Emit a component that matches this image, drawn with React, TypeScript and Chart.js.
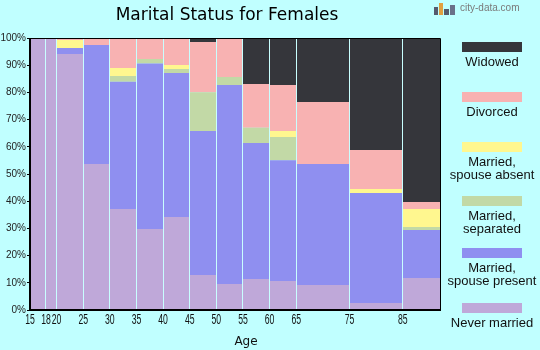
import React, { useEffect, useRef } from 'react';
import { Chart, registerables } from 'chart.js';

Chart.register(...registerables);

// Age group boundaries (last group 85+ drawn to 92)
const ageBounds = [15, 18, 20, 25, 30, 35, 40, 45, 50, 55, 60, 65, 75, 85, 92];
const tickAges = [15, 18, 20, 25, 30, 35, 40, 45, 50, 55, 60, 65, 75, 85];

// Percent of females in each age group
const neverMarried = [100, 100, 94.1, 53.7, 37.1, 29.8, 34.2, 12.9, 9.6, 11.4, 10.7, 9.2, 2.6, 11.8];
const marriedPresent = [0, 0, 2.2, 43.7, 46.8, 60.8, 52.9, 52.9, 73.1, 50.0, 44.4, 44.5, 40.4, 17.6];
const marriedSeparated = [0, 0, 0, 0, 2.1, 1.7, 1.5, 14.3, 3.0, 5.6, 8.5, 0, 0, 1.1];
const marriedAbsent = [0, 0, 3.0, 0, 3.0, 0, 1.5, 0, 0, 0, 2.2, 0, 1.5, 6.6];
const divorced = [0, 0, 0.7, 2.6, 11.0, 7.7, 9.9, 18.4, 14.3, 16.1, 16.9, 22.8, 14.3, 2.6];
const widowed = [0, 0, 0, 0, 0, 0, 0, 1.5, 0, 16.9, 17.3, 23.5, 41.2, 60.3];

const yTicks = [0, 10, 20, 30, 40, 50, 60, 70, 80, 90, 100];

const series = [
  { label: 'Never married', values: neverMarried, color: '#bfa8d9' },
  { label: 'Married, spouse present', values: marriedPresent, color: '#8f8ff0' },
  { label: 'Married, separated', values: marriedSeparated, color: '#c2d9a6' },
  { label: 'Married, spouse absent', values: marriedAbsent, color: '#fff78f' },
  { label: 'Divorced', values: divorced, color: '#f8b2b2' },
  { label: 'Widowed', values: widowed, color: '#35363b' },
];

// legend layout (top to bottom: Widowed ... Never married)
const legendTops = [42, 92, 142, 196, 248, 303];

const BG = '#c0ffff';

function toSteps(values: number[]) {
  return ageBounds.map((x, i) => ({ x, y: values[Math.min(i, values.length - 1)] }));
}

const framePlugin = {
  id: 'frame',
  afterDraw(chart: any) {
    const { ctx, chartArea } = chart;
    const { left, top, right, bottom } = chartArea;
    ctx.save();
    ctx.strokeStyle = '#000';
    ctx.lineWidth = 1;
    ctx.beginPath();
    ctx.moveTo(left, top + 0.5);
    ctx.lineTo(right + 0.5, top + 0.5);
    ctx.lineTo(right + 0.5, bottom);
    ctx.stroke();
    ctx.lineWidth = 2;
    ctx.beginPath();
    ctx.moveTo(left, top);
    ctx.lineTo(left, bottom);
    ctx.lineTo(right + 1, bottom);
    ctx.stroke();
    ctx.restore();
  },
};

// x tick labels drawn condensed, as in the reference
const xLabelPlugin = {
  id: 'xLabels',
  afterDraw(chart: any) {
    const { ctx } = chart;
    const s = chart.scales.x;
    ctx.save();
    ctx.fillStyle = '#111';
    ctx.font = "14px 'Liberation Sans', Arial, sans-serif";
    ctx.textAlign = 'center';
    ctx.textBaseline = 'alphabetic';
    tickAges.forEach((v) => {
      const px = s.getPixelForValue(v);
      ctx.save();
      ctx.translate(px, s.top + 14);
      ctx.scale(0.62, 1);
      ctx.fillText(String(v), 0, 0);
      ctx.restore();
    });
    ctx.restore();
  },
};

export default function App() {
  const canvasRef = useRef<HTMLCanvasElement | null>(null);

  useEffect(() => {
    document.body.style.margin = '0';
    document.body.style.background = BG;
    const canvas = canvasRef.current;
    if (!canvas) return;
    const chart = new Chart(canvas, {
      type: 'line',
      data: {
        datasets: series.map((s, i) => ({
          label: s.label,
          data: toSteps(s.values),
          backgroundColor: s.color,
          borderColor: s.color,
          borderWidth: 0,
          pointRadius: 0,
          stepped: 'before',
          tension: 0,
          fill: i === 0 ? 'origin' : '-1',
        })),
      },
      options: {
        animation: false,
        responsive: false,
        events: [],
        layout: { padding: { top: 38, right: 100, left: 0, bottom: 0 } },
        plugins: {
          legend: { display: false },
          tooltip: { enabled: false },
          title: { display: false },
        },
        scales: {
          x: {
            type: 'linear',
            min: 15,
            max: 92,
            afterBuildTicks: (scale: any) => {
              scale.ticks = tickAges.map((v) => ({ value: v }));
            },
            afterFit: (scale: any) => {
              scale.height = 40;
            },
            ticks: {
              display: false,
              autoSkip: false,
              maxRotation: 0,
              minRotation: 0,
            },
            grid: {
              z: 1,
              color: '#c8ffff',
              lineWidth: 1,
              drawTicks: false,
              drawOnChartArea: true,
            },
            border: { display: false },
          },
          y: {
            stacked: true,
            min: 0,
            max: 100,
            afterBuildTicks: (scale: any) => {
              scale.ticks = yTicks.map((v) => ({ value: v }));
            },
            afterFit: (scale: any) => {
              scale.width = 30;
            },
            ticks: {
              padding: 1,
              color: '#222',
              font: { family: "'Liberation Sans', Arial, sans-serif", size: 10 },
              callback: (v: any) => v + '%',
            },
            grid: {
              drawOnChartArea: false,
              drawTicks: true,
              tickLength: 3,
              color: '#000',
            },
            border: { display: false },
          },
        },
      } as any,
      plugins: [framePlugin, xLabelPlugin],
    });
    return () => chart.destroy();
  }, []);

  const legendSeries = [...series].reverse();

  return (
    <div style={{ position: 'fixed', left: 0, top: 0, width: 540, height: 350, background: BG, overflow: 'hidden' }}>
      <canvas ref={canvasRef} width={540} height={350} style={{ position: 'absolute', left: 0, top: 0, width: 540, height: 350 }} />
      <div
        style={{
          position: 'absolute', left: 0, top: 4, width: 454, textAlign: 'center',
          fontFamily: "'DejaVu Sans', Verdana, sans-serif", fontSize: 17, lineHeight: '20px', color: '#000',
        }}
      >
        Marital Status for Females
      </div>
      <div
        style={{
          position: 'absolute', left: 206, top: 334, width: 80, textAlign: 'center',
          fontFamily: "'DejaVu Sans', Verdana, sans-serif", fontSize: 12, lineHeight: '14px', color: '#111',
        }}
      >
        Age
      </div>
      {/* logo */}
      <div style={{ position: 'absolute', left: 434, top: 3, width: 22, height: 12 }}>
        <div style={{ position: 'absolute', left: 0, top: 4, width: 4, height: 8, background: '#555b6e' }} />
        <div style={{ position: 'absolute', left: 5, top: 0, width: 4, height: 12, background: '#e0a040' }} />
        <div style={{ position: 'absolute', left: 10, top: 6, width: 5, height: 6, background: '#555b6e' }} />
        <div style={{ position: 'absolute', left: 16, top: 2, width: 5, height: 10, background: '#6a7088' }} />
      </div>
      <div
        style={{
          position: 'absolute', left: 460, top: 2, fontFamily: "'Liberation Sans', Arial, sans-serif",
          fontSize: 10, lineHeight: '12px', color: '#7a7a7a',
        }}
      >
        city-data.com
      </div>
      {legendSeries.map((s, i) => {
        const parts = s.label.split(', ');
        return (
          <div key={s.label} style={{ position: 'absolute', left: 442, top: legendTops[i], width: 100, textAlign: 'center' }}>
            <div style={{ width: 60, height: 10, background: s.color, margin: '0 auto' }} />
            <div
              style={{
                marginTop: 3, fontFamily: "'Liberation Sans', Arial, sans-serif", fontSize: 13,
                lineHeight: '13px', color: '#111', whiteSpace: 'nowrap',
              }}
            >
              {parts.length > 1 ? (
                <>
                  {parts[0] + ','}
                  <br />
                  {parts.slice(1).join(', ')}
                </>
              ) : (
                s.label
              )}
            </div>
          </div>
        );
      })}
    </div>
  );
}
